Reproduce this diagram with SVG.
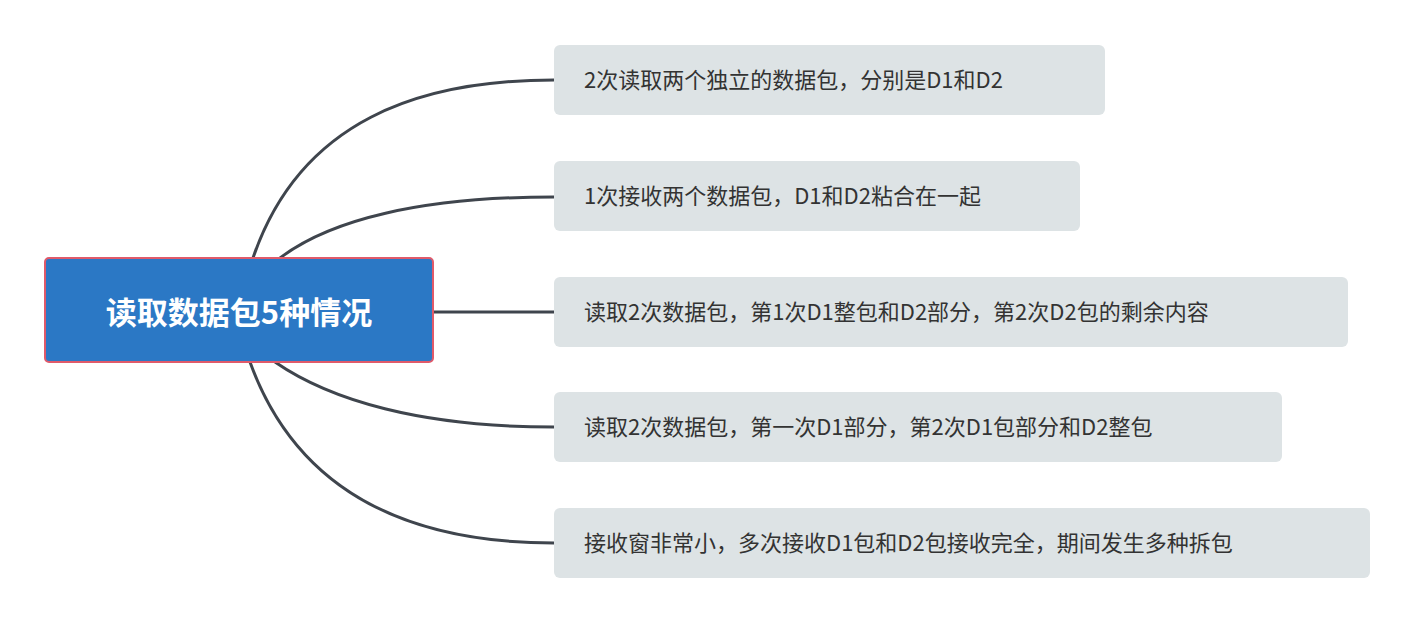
<svg xmlns="http://www.w3.org/2000/svg" width="1416" height="623" viewBox="0 0 1416 623">
<style>
.b{fill:#dde3e5}
.t{font-family:"Noto Sans CJK SC","Noto Sans",sans-serif;font-size:22px;fill:#333}
.c{fill:none;stroke:#3f454d;stroke-width:3}
</style>
<rect width="1416" height="623" fill="#fff"/>
<g id="connectors">
<path class="c" d="M253,258 C300,120 420,80 554,80"/>
<path class="c" d="M280,258 C330,220 420,197 554,197"/>
<path class="c" d="M433,312 L554,312"/>
<path class="c" d="M275,362 C330,400 420,427 554,427"/>
<path class="c" d="M250,362 C300,500 420,543 554,543"/>
</g>
<g id="root">
<rect x="45" y="258" width="388" height="104" rx="4" fill="#2b78c5" stroke="#e05a6a" stroke-width="2"/>
<text x="239" y="324" text-anchor="middle" font-family="'Noto Sans CJK SC','Noto Sans',sans-serif" font-size="31" font-weight="bold" fill="#fff">读取数据包5种情况</text>
</g>
<g id="n1"><rect class="b" x="554" y="45" width="551" height="70" rx="6"/><text class="t" x="584" y="88">2次读取两个独立的数据包，分别是D1和D2</text></g>
<g id="n2"><rect class="b" x="554" y="161" width="526" height="70" rx="6"/><text class="t" x="584" y="204">1次接收两个数据包，D1和D2粘合在一起</text></g>
<g id="n3"><rect class="b" x="554" y="277" width="794" height="70" rx="6"/><text class="t" x="584" y="320">读取2次数据包，第1次D1整包和D2部分，第2次D2包的剩余内容</text></g>
<g id="n4"><rect class="b" x="554" y="392" width="728" height="70" rx="6"/><text class="t" x="584" y="435">读取2次数据包，第一次D1部分，第2次D1包部分和D2整包</text></g>
<g id="n5"><rect class="b" x="554" y="508" width="816" height="70" rx="6"/><text class="t" x="584" y="551">接收窗非常小，多次接收D1包和D2包接收完全，期间发生多种拆包</text></g>
</svg>
